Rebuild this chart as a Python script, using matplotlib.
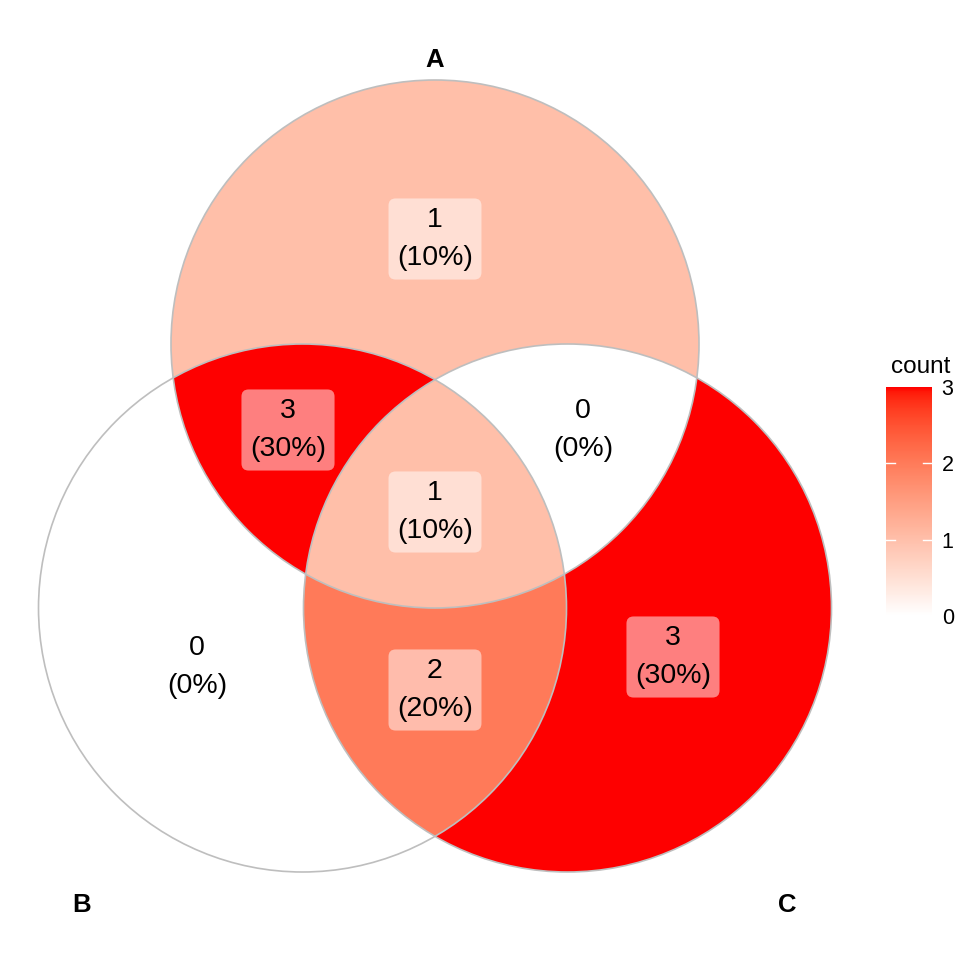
import numpy as np
import matplotlib
matplotlib.use("Agg")
import matplotlib.pyplot as plt
from matplotlib.colors import ListedColormap, Normalize
from matplotlib.patches import Circle
from matplotlib.colorbar import ColorbarBase

plt.rcParams['font.family'] = ['Liberation Sans', 'DejaVu Sans']

# data
set_names = ["A", "B", "C"]
region_ids = ["A", "B", "C", "A..B", "A..C", "B..C", "A..B..C"]
region_counts = [1, 0, 3, 3, 0, 2, 1]

# layout (pixel space, y down)
centers = {"A": (435, 344), "B": (302.5, 608), "C": (567.5, 608)}
radius = 264
name_pos = {"A": (435, 60), "B": (82, 905), "C": (787, 905)}
label_pos = {"A": (435, 239), "B": (197, 667), "C": (673, 657),
             "A..B": (288, 430), "A..C": (583, 430), "B..C": (435, 690),
             "A..B..C": (435, 512)}


# white -> red in Lab space like ggplot's gradient
def srgb_to_lab(rgb):
    c = np.array(rgb, float)
    c = np.where(c > 0.04045, ((c + 0.055) / 1.055) ** 2.4, c / 12.92)
    M = np.array([[0.4124, 0.3576, 0.1805], [0.2126, 0.7152, 0.0722], [0.0193, 0.1192, 0.9505]])
    xyz = M @ c / np.array([0.95047, 1.0, 1.08883])
    f = np.where(xyz > 0.008856, np.cbrt(xyz), 7.787 * xyz + 16 / 116)
    return np.array([116 * f[1] - 16, 500 * (f[0] - f[1]), 200 * (f[1] - f[2])])


def lab_to_srgb(lab):
    L, a, b = lab
    fy = (L + 16) / 116
    fx = fy + a / 500
    fz = fy - b / 200
    f = np.array([fx, fy, fz])
    xyz = np.where(f ** 3 > 0.008856, f ** 3, (f - 16 / 116) / 7.787) * np.array([0.95047, 1.0, 1.08883])
    Minv = np.array([[3.2406, -1.5372, -0.4986], [-0.9689, 1.8758, 0.0415], [0.0557, -0.2040, 1.0570]])
    c = Minv @ xyz
    c = np.where(c > 0.0031308, 1.055 * np.clip(c, 0, None) ** (1 / 2.4) - 0.055, 12.92 * c)
    return np.clip(c, 0, 1)


lab0 = srgb_to_lab([1, 1, 1])
lab1 = srgb_to_lab([1, 0, 0])
cols = [lab_to_srgb(lab0 + t * (lab1 - lab0)) for t in np.linspace(0, 1, 256)]
cmap = ListedColormap(cols)
norm = Normalize(0, 3)

fig = plt.figure(figsize=(9.6, 9.6), dpi=100)
ax = fig.add_axes([0, 0, 1, 1])
ax.set_xlim(0, 960)
ax.set_ylim(960, 0)
ax.axis("off")

# region fill grid
xs = np.linspace(0, 960, 2400)
ys = np.linspace(0, 960, 2400)
X, Y = np.meshgrid(xs, ys)
inside = {s: (X - centers[s][0]) ** 2 + (Y - centers[s][1]) ** 2 <= radius ** 2 for s in set_names}
grid = np.full(X.shape, np.nan)
for rid, cnt in zip(region_ids, region_counts):
    members = rid.split("..")
    m = np.ones(X.shape, bool)
    for s in set_names:
        m &= inside[s] if s in members else ~inside[s]
    grid[m] = cnt
ax.imshow(grid, cmap=cmap, norm=norm, extent=(0, 960, 960, 0), origin="upper",
          interpolation="nearest", zorder=1)

for s in set_names:
    ax.add_patch(Circle(centers[s], radius, fill=False, edgecolor="#BEBEBE", lw=1.2, zorder=2))
    ax.text(*name_pos[s], s, ha="center", va="center", fontsize=18.5, fontweight="bold", zorder=3)

total = sum(region_counts)
for rid, cnt in zip(region_ids, region_counts):
    x, y = label_pos[rid]
    ax.text(x, y, f"{cnt}\n({cnt / total * 100:.0f}%)", ha="center", va="center",
            fontsize=20.5, linespacing=1.6, zorder=4,
            bbox=dict(boxstyle="round,pad=0.3,rounding_size=0.25", fc="white", ec="none", alpha=0.5))

cax = fig.add_axes([886 / 960, 1 - 616 / 960, 46 / 960, 229 / 960])
cb = ColorbarBase(cax, cmap=cmap, norm=norm, ticks=[0, 1, 2, 3])
cb.outline.set_visible(False)
cax.tick_params(length=0, labelsize=15.5, pad=7)
for v in [1, 2]:
    cax.plot([0, 0.2], [v, v], color="white", lw=1)
    cax.plot([0.8, 1], [v, v], color="white", lw=1)
cax.set_xlim(0, 1)
cax.text(0.75, 1.04, "count", transform=cax.transAxes, ha="center", va="bottom", fontsize=17.5)

fig.savefig("out.png", dpi=100)
